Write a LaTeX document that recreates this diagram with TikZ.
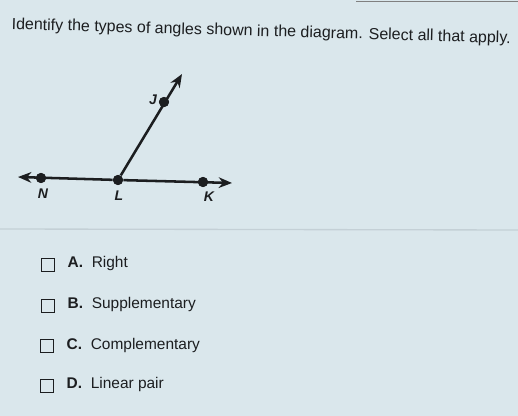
\documentclass[tikz,border=0pt]{standalone}
\usepackage{fontspec}
\setmainfont{Liberation Sans}
\usetikzlibrary{arrows.meta, positioning}

\definecolor{paper}{RGB}{218,231,236}
\definecolor{ink}{RGB}{28,30,32}
\definecolor{rule}{RGB}{196,208,214}

\tikzset{
  dot/.style={circle, fill=ink, inner sep=0pt, minimum size=7.6pt},
  ray/.style={ink, line width=1.9pt, -{Stealth[length=10pt,width=8pt]}},
  ptlabel/.style={font=\bfseries\itshape\fontsize{10.5}{12}\selectfont, text=ink},
  optbox/.style={draw=ink, line width=1.3pt, minimum size=9.6pt, inner sep=0pt},
  opttext/.style={font=\fontsize{11.6}{14}\selectfont, text=ink, anchor=west},
}

\begin{document}
\begin{tikzpicture}[x=0.75pt, y=-0.75pt]
  % page and photo background
  \fill[paper] (0,0) rectangle (518,416);
  \useasboundingbox (0,0) rectangle (518,416);
  \draw[gray, line width=1pt] (356,1.5) -- (518,1.5);

  % question
  \node[anchor=west, rotate=-1.6, text=ink, font=\fontsize{12}{14}\selectfont] (question) at (7,25)
    {Identify the types of angles shown in the diagram. Select all that apply.};

  % the angle diagram
  \node[dot] (L) at (118,180) {};
  \node[dot] (N) at (41,178) {};
  \node[dot] (K) at (203,182) {};
  \node[dot] (J) at (164,102) {};
  \coordinate (Ntip) at (18,177);
  \coordinate (Ktip) at (232,183);
  \coordinate (Jtip) at (182,74);
  \draw[ray] (L) -- (Ntip);
  \draw[ray] (L) -- (Ktip);
  \draw[ray] (L) -- (Jtip);
  \node[dot] at (N) {};
  \node[dot] at (L) {};
  \node[dot] at (K) {};
  \node[dot] at (J) {};
  \node[ptlabel] (labN) at (43,194) {N};
  \node[ptlabel] (labL) at (119,196) {L};
  \node[ptlabel] (labK) at (209,197) {K};
  \node[ptlabel] (labJ) at (153,100) {J};

  \draw[rule, line width=1pt] (0,229) -- (518,230);

  % answer choices
  \node[optbox] (boxA) at (48,265) {};
  \node[optbox] (boxB) at (48,306) {};
  \node[optbox] (boxC) at (47,346) {};
  \node[optbox] (boxD) at (47,386) {};
  \node[opttext] (optA) at (63,264) {\textbf{A.}\ \ Right};
  \node[opttext] (optB) at (63,305) {\textbf{B.}\ \ Supplementary};
  \node[opttext] (optC) at (62,346) {\textbf{C.}\ \ Complementary};
  \node[opttext] (optD) at (62,385) {\textbf{D.}\ \ Linear pair};
\end{tikzpicture}
\end{document}
